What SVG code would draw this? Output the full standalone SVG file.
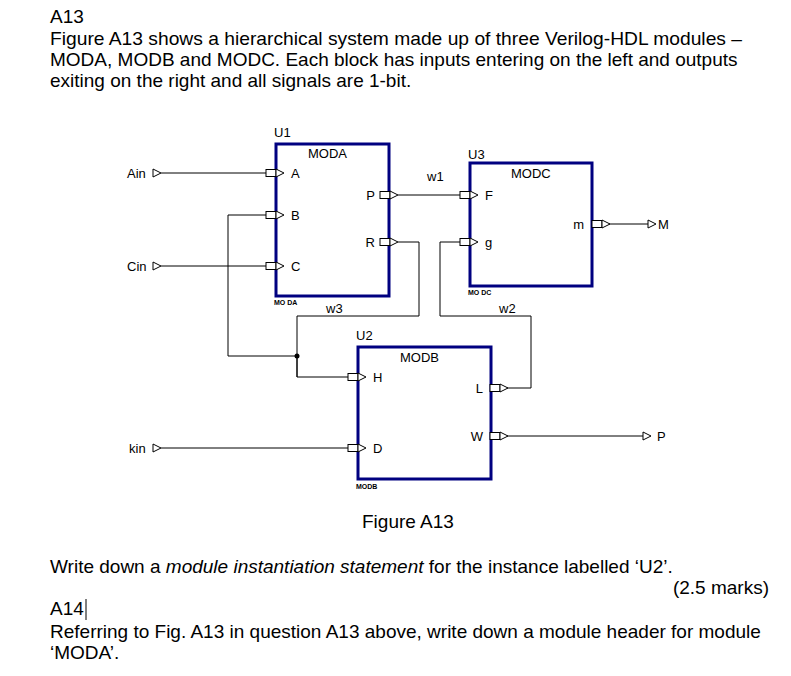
<svg xmlns="http://www.w3.org/2000/svg" width="791" height="676" viewBox="0 0 791 676">
<defs>
<style>
.t{font-family:"Liberation Sans",Arial,sans-serif;font-size:19px;fill:#000}
.s{font-family:"Liberation Sans",Arial,sans-serif;font-size:13px;fill:#000}
.e{text-anchor:end}
.xs{font-family:"Liberation Sans",Arial,sans-serif;font-size:7px;font-weight:bold;fill:#000}
.box{fill:none;stroke:#000080;stroke-width:3}
.w{fill:none;stroke:#000;stroke-width:1}
.p{fill:#fff;stroke:#000;stroke-width:1}
</style>
<g id="pin"><rect class="p" x="-10" y="-3.5" width="10" height="7"/><path class="p" d="M0,-4 L8,0 L0,4 Z"/></g>
<path id="tri" class="p" d="M0,-4 L8,0 L0,4 Z"/>
</defs>
<rect width="791" height="676" fill="#fff"/>
<text class="t" x="50" y="23">A13</text>
<text class="t" x="50" y="45" textLength="692" lengthAdjust="spacingAndGlyphs">Figure A13 shows a hierarchical system made up of three Verilog-HDL modules –</text>
<text class="t" x="50" y="66">MODA, MODB and MODC. Each block has inputs entering on the left and outputs</text>
<text class="t" x="50" y="87">exiting on the right and all signals are 1-bit.</text>

<g id="connectors">
<path class="w" d="M161,173 H266 M161,266 H266 M161,448 H348 M228,215 H266 M228,215 V356 H297 M297,377 V316 H419 V242 H398 M297,356 V377 H348 M398,195 H460 M460,242 H440 V316 H531 V388 H500 M500,436 H648 M602,224 H648"/>
<circle cx="297" cy="356" r="2.5" fill="#000"/>
</g>

<g id="U1">
<rect class="box" x="276" y="144" width="113" height="152"/>
<text class="s" x="274" y="137">U1</text>
<text class="s" x="308" y="158">MODA</text>
<text class="xs" x="274" y="305">MO DA</text>
<use href="#pin" x="276" y="173"/><text class="s" x="291" y="178">A</text>
<use href="#pin" x="276" y="215"/><text class="s" x="291" y="220">B</text>
<use href="#pin" x="276" y="266"/><text class="s" x="291" y="271">C</text>
<use href="#pin" x="390" y="195"/><text class="s e" x="375" y="200">P</text>
<use href="#pin" x="390" y="242"/><text class="s e" x="375" y="247">R</text>
</g>

<g id="U3">
<rect class="box" x="470" y="163" width="122" height="123"/>
<text class="s" x="468" y="159">U3</text>
<text class="s" x="511" y="178">MODC</text>
<text class="xs" x="468" y="295">MO DC</text>
<use href="#pin" x="470" y="195"/><text class="s" x="485" y="200">F</text>
<use href="#pin" x="470" y="242"/><text class="s" x="485" y="247">g</text>
<use href="#pin" x="602" y="224"/><text class="s e" x="584" y="229">m</text>
</g>

<g id="U2">
<rect class="box" x="358" y="347" width="133" height="132"/>
<text class="s" x="356" y="340">U2</text>
<text class="s" x="400" y="362">MODB</text>
<text class="xs" x="356" y="489">MODB</text>
<use href="#pin" x="358" y="377"/><text class="s" x="373" y="382">H</text>
<use href="#pin" x="358" y="448"/><text class="s" x="373" y="453">D</text>
<use href="#pin" x="500" y="388"/><text class="s e" x="483" y="393">L</text>
<use href="#pin" x="500" y="436"/><text class="s e" x="483" y="441">W</text>
</g>

<g id="io">
<text class="s" x="127" y="178">Ain</text><use href="#tri" x="153" y="173"/>
<text class="s" x="127" y="271">Cin</text><use href="#tri" x="153" y="266"/>
<text class="s" x="129" y="453">kin</text><use href="#tri" x="153" y="448"/>
<use href="#tri" x="648" y="224"/><text class="s" x="658" y="229">M</text>
<use href="#tri" x="643" y="436"/><text class="s" x="657" y="441">P</text>
<text class="s" x="427" y="181">w1</text>
<text class="s" x="326" y="313">w3</text>
<text class="s" x="499" y="313">w2</text>
</g>

<text class="t" x="362" y="528">Figure A13</text>
<text class="t" x="50" y="573">Write down a <tspan font-style="italic">module instantiation statement</tspan> for the instance labelled ‘U2’.</text>
<text class="t" x="769" y="594" text-anchor="end">(2.5 marks)</text>
<text class="t" x="50" y="615">A14</text>
<line x1="86" y1="599" x2="86" y2="620" stroke="#000"/>
<text class="t" x="50" y="638">Referring to Fig. A13 in question A13 above, write down a module header for module</text>
<text class="t" x="50" y="659">‘MODA’.</text>
</svg>
